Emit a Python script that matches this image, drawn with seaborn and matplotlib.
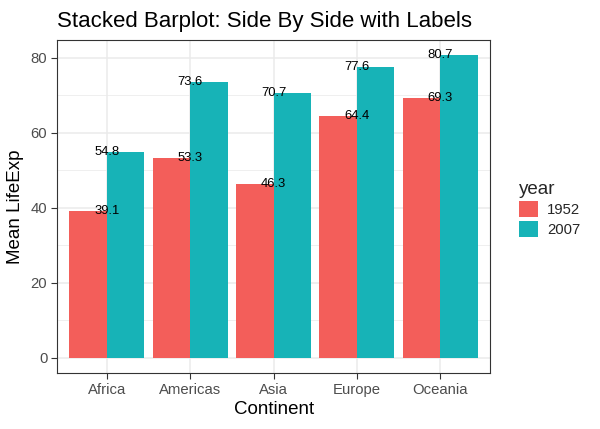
import pandas as pd
import seaborn as sns
import matplotlib.pyplot as plt
from matplotlib.ticker import MultipleLocator

continents = ['Africa', 'Americas', 'Asia', 'Europe', 'Oceania']
years = ['1952', '2007']
life_1952 = [39.1, 53.3, 46.3, 64.4, 69.3]
life_2007 = [54.8, 73.6, 70.7, 77.6, 80.7]

colors = ['#F35E5A', '#17B3B7']

df = pd.DataFrame({
    'continent': continents * 2,
    'year': [years[0]] * 5 + [years[1]] * 5,
    'lifeExp': life_1952 + life_2007,
})

sns.set_style('white')
plt.rcParams['font.family'] = ['Liberation Sans', 'DejaVu Sans']

fig = plt.figure(figsize=(6, 4.29), dpi=100)
ax = fig.add_axes([0.095, 0.131, 0.722, 0.776])

sns.barplot(data=df, x='continent', y='lifeExp', hue='year', order=continents,
            hue_order=years, palette=colors, width=0.9, saturation=1,
            errorbar=None, linewidth=0, ax=ax, zorder=2)

# labels sit at the category centre, at the bar value
for i, c in enumerate(continents):
    for vals in (life_1952, life_2007):
        ax.text(i, vals[i], f'{vals[i]:.1f}', ha='center', va='center',
                fontsize=9.4, color='black', zorder=3)

ax.set_xlim(-0.6, 4.6)
ax.set_ylim(-4.035, 84.735)
ax.yaxis.set_major_locator(MultipleLocator(20))
ax.yaxis.set_minor_locator(MultipleLocator(10))
ax.grid(which='major', color='#EBEBEB', lw=1.1, zorder=0)
ax.grid(which='minor', axis='y', color='#EBEBEB', lw=0.55, zorder=0)
ax.set_axisbelow(True)
for s in ax.spines.values():
    s.set_color('#333333')
    s.set_linewidth(0.8)
ax.tick_params(axis='both', which='major', length=4, width=0.8, color='#333333',
               labelsize=10.7, labelcolor='#4D4D4D', pad=3, bottom=True, left=True)
ax.tick_params(axis='y', which='minor', length=0)

ax.set_xlabel('Continent', fontsize=13.5, labelpad=3, color='black')
ax.set_ylabel('Mean LifeExp', fontsize=13.5, labelpad=5, color='black')
ax.set_title('Stacked Barplot: Side By Side with Labels', fontsize=16,
             loc='left', pad=9, color='black')

handles, labels = ax.get_legend_handles_labels()
ax.legend_.remove()
leg = fig.legend(handles, labels, title='year', loc='center left',
                 bbox_to_anchor=(0.852, 0.513), frameon=False, fontsize=10.7,
                 title_fontsize=13.5, handlelength=1.3, handleheight=1.3,
                 handletextpad=0.6, labelspacing=0.25, borderpad=0)
leg._legend_box.align = 'left'

fig.savefig('out.png', dpi=100)
